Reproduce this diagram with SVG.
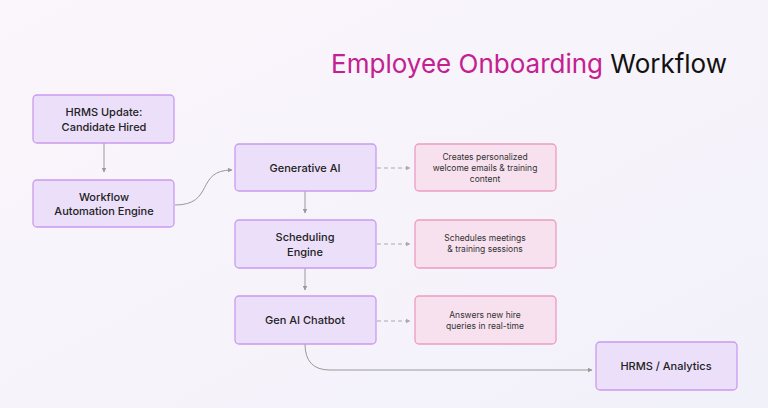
<svg xmlns="http://www.w3.org/2000/svg" width="768" height="408" viewBox="0 0 768 408">
<defs>
<linearGradient id="bg" x1="0" y1="0" x2="1" y2="1"><stop offset="0" stop-color="#fbf6fb"/><stop offset="0.5" stop-color="#f7f3fb"/><stop offset="1" stop-color="#f1f1fa"/></linearGradient>
<marker id="ar" viewBox="0 0 10 10" refX="9" refY="5" markerWidth="5" markerHeight="5" orient="auto"><path d="M0,0 L10,5 L0,10 z" fill="#999"/></marker>
<marker id="ar2" viewBox="0 0 10 10" refX="9" refY="5" markerWidth="5" markerHeight="5" orient="auto"><path d="M0,0 L10,5 L0,10 z" fill="#aaa"/></marker>
</defs>
<style>
.n{fill:#ecdffa;stroke:#c99bf0;stroke-width:1.3}
.p{fill:#f8e1ee;stroke:#ec9cc4;stroke-width:1.3}
.t{font-family:Inter,"Liberation Sans",sans-serif;font-size:11px;font-weight:500;fill:#222;text-anchor:middle}
.s{font-family:Inter,"Liberation Sans",sans-serif;font-size:8.5px;fill:#333;text-anchor:middle}
.c{fill:none;stroke:#999;stroke-width:1}
.d{fill:none;stroke:#aaa;stroke-width:1;stroke-dasharray:4 3}
</style>
<rect width="768" height="408" fill="url(#bg)"/>
<text x="727" y="73" text-anchor="end" font-family="Inter,'Liberation Sans',sans-serif" font-size="26" fill="#111"><tspan fill="#c3218f">Employee Onboarding</tspan> Workflow</text>
<g id="connectors">
<path class="c" d="M104,143 V172" marker-end="url(#ar)"/>
<path class="c" d="M175,205 C215,205 195,170 232,170" marker-end="url(#ar)"/>
<path class="c" d="M305,191 V213" marker-end="url(#ar)"/>
<path class="c" d="M305,268 V290" marker-end="url(#ar)"/>
<path class="c" d="M305,344 Q305,370 330,370 H592" marker-end="url(#ar)"/>
<path class="d" d="M377,168 H410" marker-end="url(#ar2)"/>
<path class="d" d="M377,244 H410" marker-end="url(#ar2)"/>
<path class="d" d="M377,321 H410" marker-end="url(#ar2)"/>
</g>
<g id="hrms"><rect class="n" x="33" y="95" width="141" height="48" rx="4"/><text class="t" x="104" y="116">HRMS Update:</text><text class="t" x="104" y="131">Candidate Hired</text></g>
<g id="wae"><rect class="n" x="33" y="180" width="141" height="47" rx="4"/><text class="t" x="104" y="201">Workflow</text><text class="t" x="104" y="215">Automation Engine</text></g>
<g id="genai"><rect class="n" x="235" y="144" width="141" height="47" rx="4"/><text class="t" x="305" y="172">Generative AI</text></g>
<g id="sched"><rect class="n" x="235" y="220" width="141" height="48" rx="4"/><text class="t" x="305" y="241">Scheduling</text><text class="t" x="305" y="256">Engine</text></g>
<g id="chatbot"><rect class="n" x="235" y="296" width="141" height="48" rx="4"/><text class="t" x="305" y="324">Gen AI Chatbot</text></g>
<g id="d1"><rect class="p" x="415" y="144" width="141" height="47" rx="4"/><text class="s" x="485" y="160">Creates personalized</text><text class="s" x="485" y="171">welcome emails &amp; training</text><text class="s" x="485" y="182">content</text></g>
<g id="d2"><rect class="p" x="415" y="220" width="141" height="48" rx="4"/><text class="s" x="485" y="241">Schedules meetings</text><text class="s" x="485" y="252">&amp; training sessions</text></g>
<g id="d3"><rect class="p" x="415" y="296" width="141" height="48" rx="4"/><text class="s" x="485" y="318">Answers new hire</text><text class="s" x="485" y="329">queries in real-time</text></g>
<g id="analytics"><rect class="n" x="596" y="342" width="141" height="48" rx="4"/><text class="t" x="666" y="370">HRMS / Analytics</text></g>
</svg>
